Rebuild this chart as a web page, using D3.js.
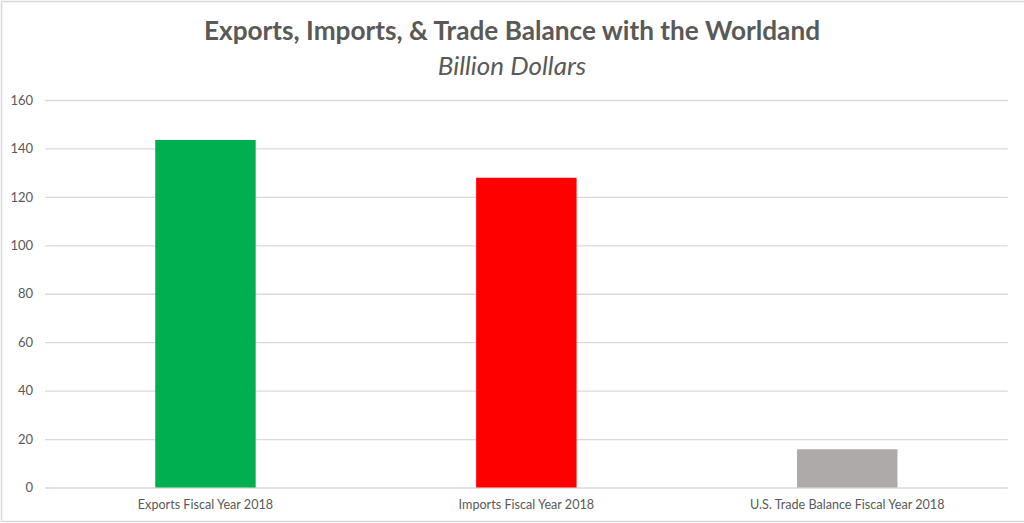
<!DOCTYPE html>
<html><head><meta charset="utf-8">
<script src="https://cdn.jsdelivr.net/npm/d3@7"></script>
<style>body{margin:0;background:#fff}svg{display:block}</style>
</head><body>
<svg id="c" width="1024" height="523"></svg>
<script>
const categories = ["Exports Fiscal Year 2018", "Imports Fiscal Year 2018", "U.S. Trade Balance Fiscal Year 2018"];
const values = [143.5, 127.9, 15.8];
const colors = ["#00b050", "#ff0000", "#aeaaaa"];
const yTicks = [0, 20, 40, 60, 80, 100, 120, 140, 160];
const title = "Exports, Imports, & Trade Balance with the Worldand";
const subtitle = "Billion Dollars";

const svg = d3.select("#c");
const W = 1024, H = 523;
const font = "Lato, 'Open Sans', sans-serif";
const grey = "#595959";

// frame
svg.append("line").attr("x1",1.5).attr("x2",W).attr("y1",1.5).attr("y2",1.5).attr("stroke","#d9d9d9").attr("stroke-width",1.5);
svg.append("line").attr("x1",1.5).attr("x2",1.5).attr("y1",1.5).attr("y2",521.5).attr("stroke","#d9d9d9").attr("stroke-width",1.5);
svg.append("line").attr("x1",1.5).attr("x2",W).attr("y1",521.5).attr("y2",521.5).attr("stroke","#d9d9d9").attr("stroke-width",1.5);

const x = d3.scaleBand().domain(categories).range([45, 1007.7]).paddingInner(0).paddingOuter(0);
const y = d3.scaleLinear().domain([0, 160]).range([487.5, 100]);

// gridlines
const yAxis = d3.axisLeft(y).tickValues(yTicks).tickSize(-(1007.7-45)).tickPadding(12).tickFormat(d3.format("d"));
const gy = svg.append("g").attr("transform","translate(45,0)").call(yAxis);
gy.select(".domain").remove();
gy.selectAll(".tick line").attr("stroke","#d9d9d9").attr("stroke-width",1.3);
gy.selectAll(".tick text").attr("fill",grey).style("font-family",font).style("font-size","13px");

// bars
const bw = x.bandwidth()*0.313;
svg.append("g").selectAll("rect").data(values).join("rect")
  .attr("x",(d,i)=>x(categories[i]) + x.bandwidth()/2 - bw/2)
  .attr("width",bw)
  .attr("y",d=>y(d))
  .attr("height",d=>y(0)-y(d))
  .attr("fill",(d,i)=>colors[i]);

// x labels
const xAxis = d3.axisBottom(x).tickSize(0).tickPadding(13);
const gx = svg.append("g").attr("transform","translate(0,487.5)").call(xAxis);
gx.select(".domain").remove();
gx.selectAll(".tick text").attr("fill",grey).style("font-family",font).style("font-size","12.6px");

// titles
svg.append("text").attr("x",512).attr("y",40).attr("text-anchor","middle")
  .attr("fill",grey).style("font-family",font).style("font-weight","bold").style("font-size","26.2px").text(title);
svg.append("text").attr("x",512).attr("y",75).attr("text-anchor","middle")
  .attr("fill",grey).style("font-family",font).style("font-style","italic").style("font-size","26px").text(subtitle);
</script>
</body></html>
